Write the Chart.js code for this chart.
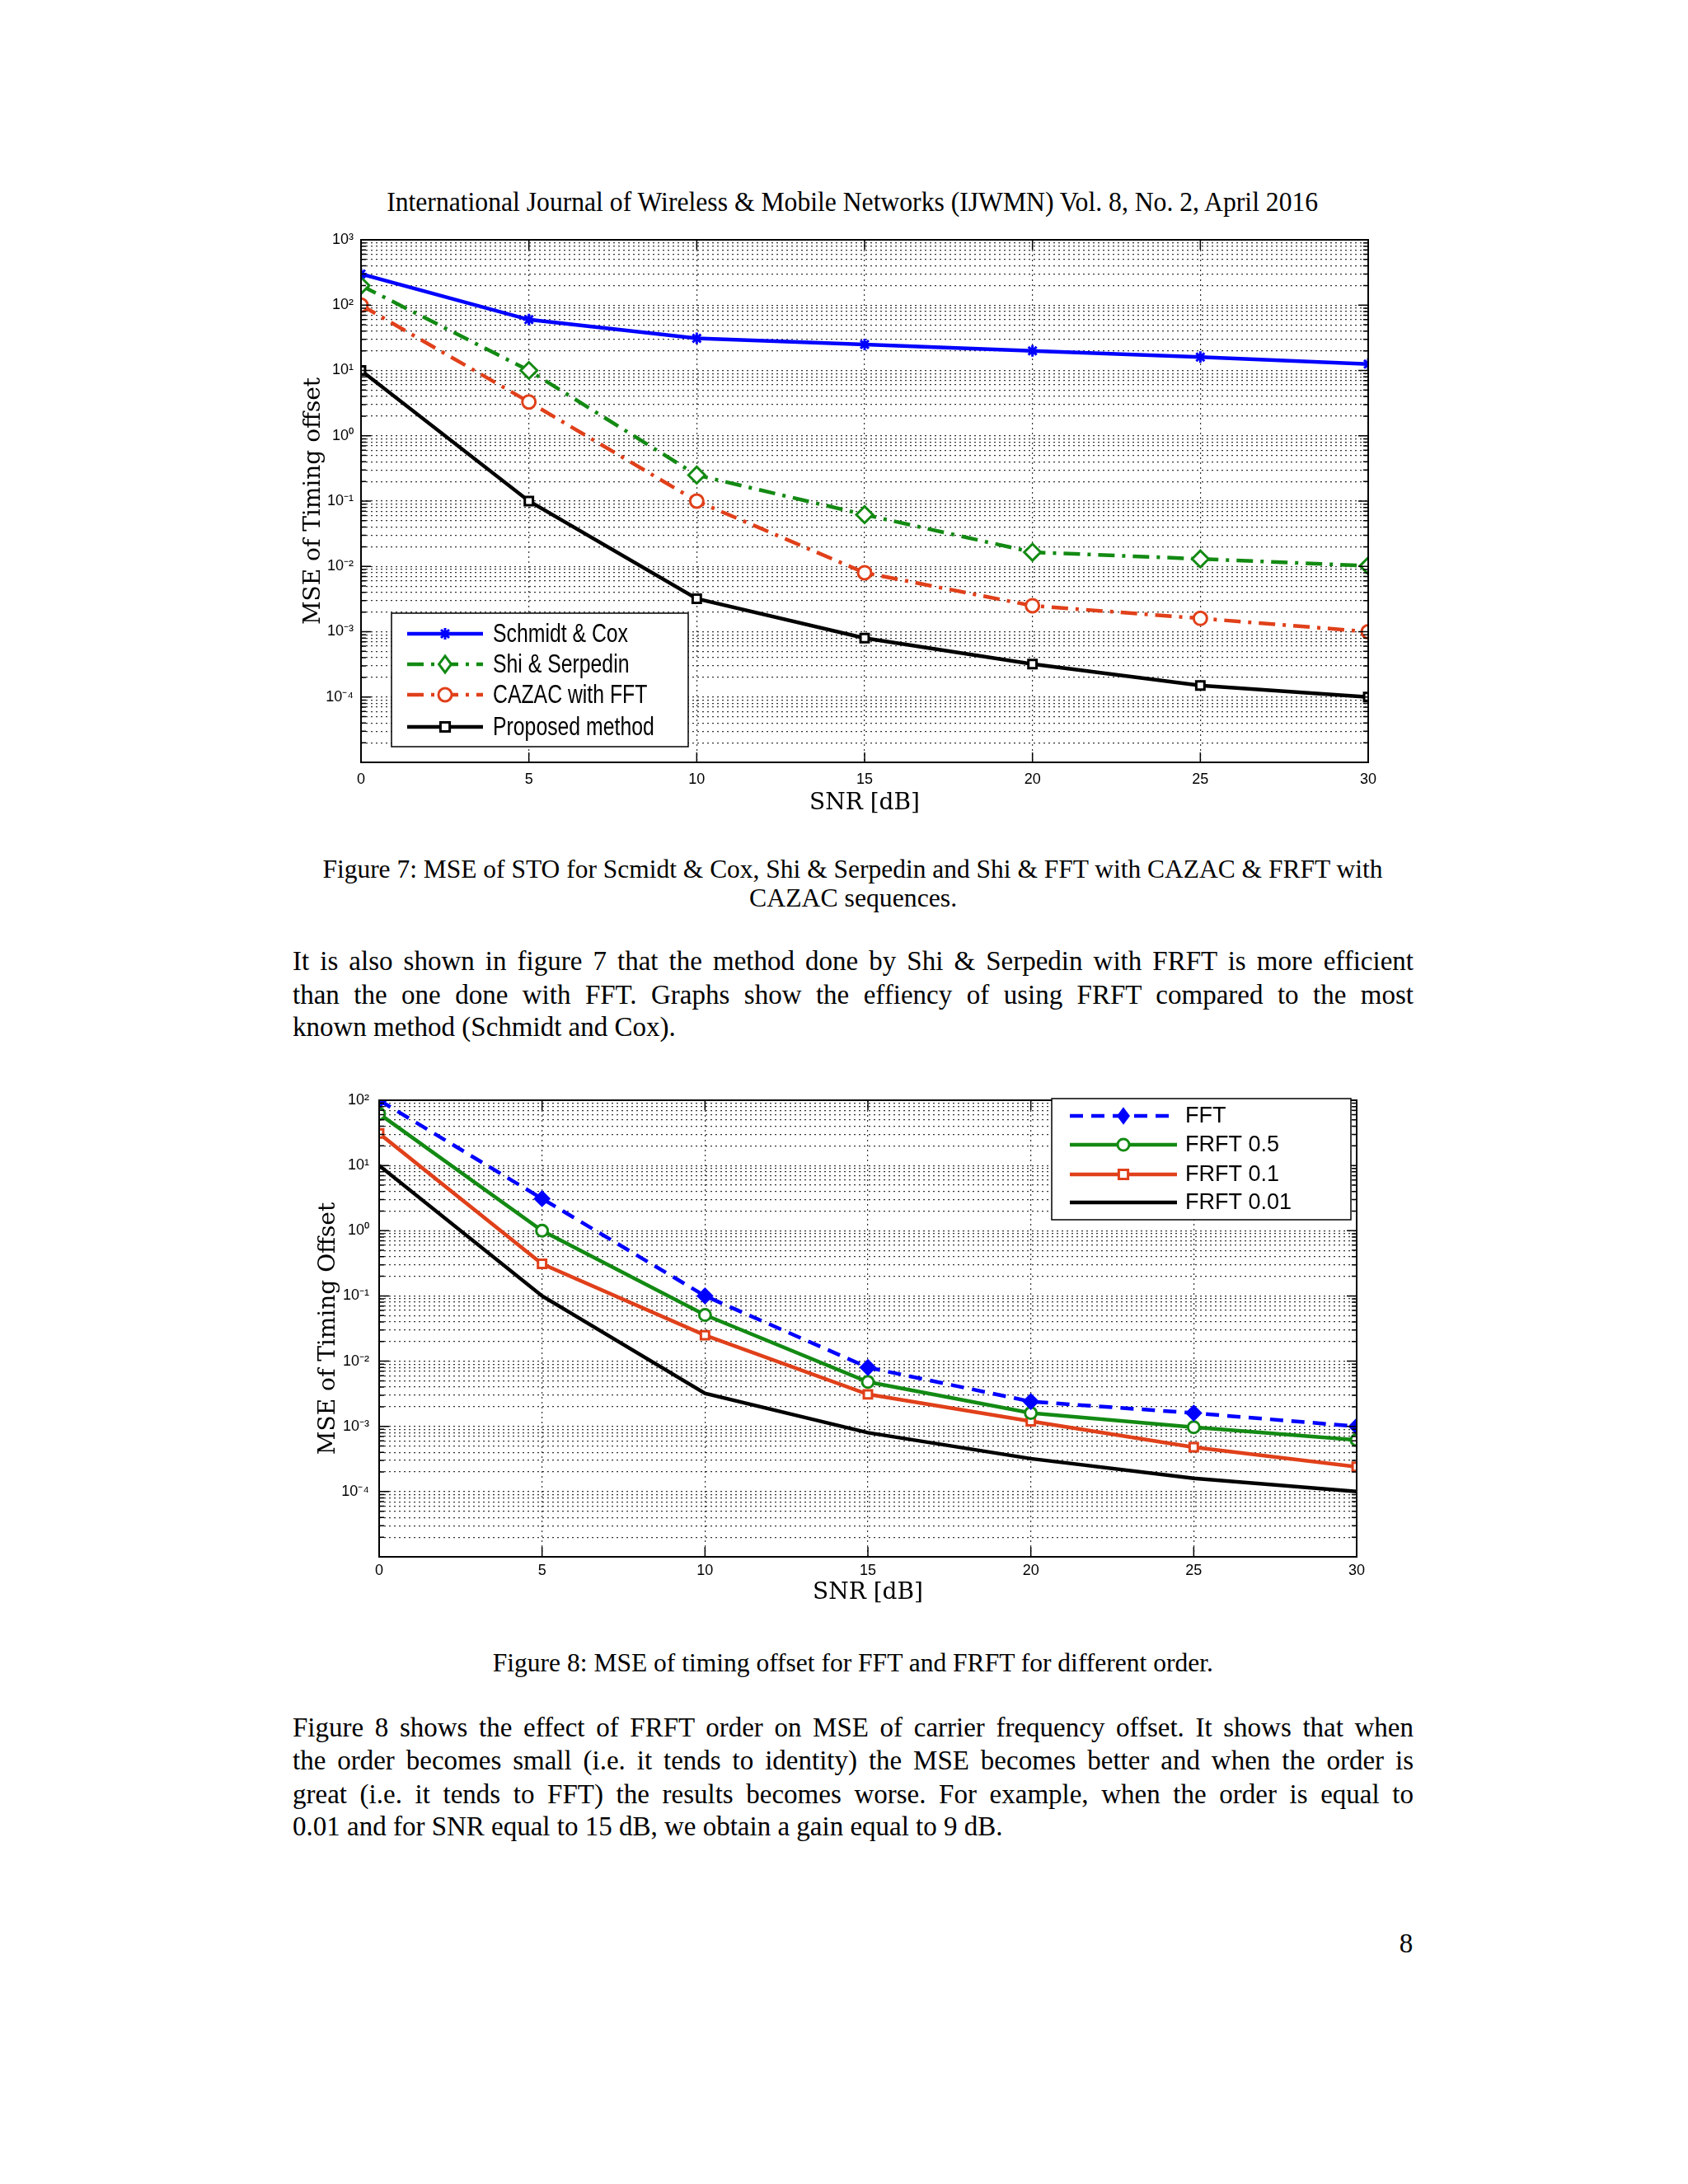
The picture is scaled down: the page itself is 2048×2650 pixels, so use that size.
<!DOCTYPE html>
<html>
<head>
<meta charset="utf-8">
<title>MSE of timing offset - figures 7 and 8</title>
<script src="https://cdn.jsdelivr.net/npm/chart.js@4.4.1/dist/chart.umd.min.js"></script>
<style>
  html, body { margin: 0; padding: 0; background: #fff; }
  body { width: 2048px; height: 2650px; position: relative; overflow: hidden;
         font-family: "Liberation Serif", "Times New Roman", serif; color: #000; }
  .ln { position: absolute; white-space: nowrap; font-size: 33px; line-height: 40px; height: 40px; }
  .cap { font-size: 31px; }
  canvas { position: absolute; }
</style>
</head>
<body>

<div class="ln" data-cx="1034" data-cy="245" data-w="1130">International Journal of Wireless &amp; Mobile Networks (IJWMN) Vol. 8, No. 2, April 2016</div>

<canvas id="fig7" width="1360" height="760" style="left:340px;top:260px;width:1360px;height:760px"></canvas>

<div class="ln cap" data-cx="1034" data-cy="1055" data-w="1286">Figure 7: MSE of STO for Scmidt &amp; Cox, Shi &amp; Serpedin and Shi &amp; FFT with CAZAC &amp; FRFT with</div>
<div class="ln cap" data-cx="1035" data-cy="1090" data-w="252">CAZAC sequences.</div>

<div class="ln" data-x="355" data-cy="1166" data-w="1360">It is also shown in figure 7 that the method done by Shi &amp; Serpedin with FRFT is more efficient</div>
<div class="ln" data-x="355" data-cy="1207" data-w="1360">than the one done with FFT. Graphs show the effiency of using FRFT compared to the most</div>
<div class="ln" data-x="355" data-cy="1246">known method (Schmidt and Cox).</div>

<canvas id="fig8" width="1340" height="680" style="left:360px;top:1300px;width:1340px;height:680px"></canvas>

<div class="ln cap" data-cx="1035" data-cy="2018" data-w="874">Figure 8: MSE of timing offset for FFT and FRFT for different order.</div>

<div class="ln" data-x="355" data-cy="2096" data-w="1360">Figure 8 shows the effect of FRFT order on MSE of carrier frequency offset. It shows that when</div>
<div class="ln" data-x="355" data-cy="2136" data-w="1360">the order becomes small (i.e. it tends to identity) the MSE becomes better and when the order is</div>
<div class="ln" data-x="355" data-cy="2177" data-w="1360">great (i.e. it tends to FFT) the results becomes worse. For example, when the order is equal to</div>
<div class="ln" data-x="355" data-cy="2216">0.01 and for SNR equal to 15 dB, we obtain a gain equal to 9 dB.</div>

<div class="ln" data-cx="1706" data-cy="2358">8</div>

<script>
// ---- data ----
const snr = [0, 5, 10, 15, 20, 25, 30];

// Figure 7
const schmidtCox  = [300, 60, 31, 25, 20, 16, 12.5];
const shiSerpedin = [200, 10, 0.25, 0.062, 0.0165, 0.013, 0.0102];
const cazacFft    = [100, 3.3, 0.1, 0.008, 0.0025, 0.0016, 0.001];
const proposed    = [10, 0.1, 0.0032, 0.0008, 0.00032, 0.00015, 0.0001];

// Figure 8
const fft     = [100, 3.1, 0.1, 0.008, 0.0024, 0.0016, 0.001];
const frft05  = [62, 1, 0.051, 0.0048, 0.0016, 0.00097, 0.00062];
const frft01  = [31, 0.31, 0.025, 0.0031, 0.0012, 0.00048, 0.00024];
const frft001 = [10, 0.1, 0.0032, 0.0008, 0.00032, 0.00016, 0.0001];

// axis ticks
const xTickStep = 5;
const decades7 = [-5, -4, -3, -2, -1, 0, 1, 2];
const decades8 = [-5, -4, -3, -2, -1, 0, 1];
const minorSteps = [1, 2, 3, 4, 5, 6, 7, 8, 9];

function logTicks(decades) {
    const t = [];
    decades.forEach(e => minorSteps.forEach(m => t.push(+(m * Math.pow(10, e)).toPrecision(2))));
    t.push(Math.pow(10, decades[decades.length - 1] + 1));
    return t;
}
const yTicks7 = logTicks(decades7);
const yTicks8 = logTicks(decades8);

function isPow10(v) {
    const l = Math.log10(v);
    return Math.abs(l - Math.round(l)) < 1e-6;
}
const supDigits = { '-': '\u207B', '0': '\u2070', '1': '\u00B9', '2': '\u00B2', '3': '\u00B3',
                    '4': '\u2074', '5': '\u2075', '6': '\u2076', '7': '\u2077', '8': '\u2078', '9': '\u2079' };
function powLabel(v, min) {
    if (!isPow10(v) || v <= min * 1.0001) return '';
    return '10' + String(Math.round(Math.log10(v))).split('').map(c => supDigits[c]).join('');
}
function pts(values) {
    return snr.map((x, i) => ({ x: x, y: values[i] }));
}

// ---- legend boxes + matlab style frame ----
const legendLayout = {
    fig7: { x: 37, y: 453, w: 360, h: 162, rows: [478, 515, 552, 591], x0: 56, x1: 148, tx: 160,
            font: '31px "Liberation Sans", sans-serif', squeeze: 0.8 },
    fig8: { x: 816, y: -2, w: 363, h: 147, rows: [19, 54, 90, 124], x0: 838, x1: 968, tx: 978,
            font: '27px "Liberation Sans", sans-serif', squeeze: 1 }
};

function drawMark(ctx, style, r, x, y, fill, stroke, lw) {
    ctx.save();
    ctx.setLineDash([]);
    ctx.lineWidth = lw;
    ctx.strokeStyle = stroke;
    ctx.fillStyle = fill;
    ctx.beginPath();
    if (style === 'circle') {
        ctx.arc(x, y, r, 0, Math.PI * 2);
    } else if (style === 'rect') {
        ctx.rect(x - r * 0.8, y - r * 0.8, r * 1.6, r * 1.6);
    } else if (style === 'rectRot') {
        ctx.moveTo(x, y - r); ctx.lineTo(x + r * 0.75, y); ctx.lineTo(x, y + r); ctx.lineTo(x - r * 0.75, y); ctx.closePath();
    } else if (style === 'star') {
        for (let k = 0; k < 4; k++) {
            const a = k * Math.PI / 4;
            ctx.moveTo(x - r * Math.cos(a), y - r * Math.sin(a));
            ctx.lineTo(x + r * Math.cos(a), y + r * Math.sin(a));
        }
        ctx.stroke(); ctx.restore(); return;
    } else { ctx.restore(); return; }
    ctx.fill(); ctx.stroke();
    ctx.restore();
}

const axesBox = {
    id: 'axesBox',
    afterDatasetsDraw(chart) {
        const { ctx, chartArea: a, scales: { x, y } } = chart;
        ctx.save();
        ctx.setLineDash([]);
        ctx.strokeStyle = '#000';
        ctx.lineWidth = 1.5;
        ctx.beginPath();
        x.ticks.forEach(t => {
            const px = x.getPixelForValue(t.value);
            ctx.moveTo(px, a.bottom); ctx.lineTo(px, a.bottom - 12);
            ctx.moveTo(px, a.top); ctx.lineTo(px, a.top + 12);
        });
        y.ticks.forEach(t => {
            const py = y.getPixelForValue(t.value);
            const len = isPow10(t.value) ? 12 : 6;
            ctx.moveTo(a.left, py); ctx.lineTo(a.left + len, py);
            ctx.moveTo(a.right, py); ctx.lineTo(a.right - len, py);
        });
        ctx.stroke();
        ctx.lineWidth = 2;
        ctx.strokeRect(a.left, a.top, a.width, a.height);

        // legend
        const L = legendLayout[chart.canvas.id];
        const bx = a.left + L.x, by = a.top + L.y;
        ctx.fillStyle = '#fff';
        ctx.fillRect(bx, by, L.w, L.h);
        ctx.lineWidth = 1.5;
        ctx.strokeRect(bx, by, L.w, L.h);
        ctx.font = L.font;
        ctx.textBaseline = 'middle';
        chart.data.datasets.forEach((ds, i) => {
            const ry = a.top + L.rows[i];
            ctx.save();
            ctx.strokeStyle = ds.borderColor;
            ctx.lineWidth = ds.borderWidth;
            ctx.setLineDash(ds.borderDash || []);
            ctx.beginPath();
            ctx.moveTo(a.left + L.x0, ry); ctx.lineTo(a.left + L.x1, ry);
            ctx.stroke();
            ctx.restore();
            if (ds.pointRadius > 0) {
                drawMark(ctx, ds.pointStyle, ds.pointRadius, a.left + (L.x0 + L.x1) / 2, ry,
                         ds.pointBackgroundColor, ds.borderColor, ds.pointBorderWidth);
            }
            ctx.fillStyle = '#000';
            const tw = ctx.measureText(ds.label).width * L.squeeze;
            ctx.fillText(ds.label, a.left + L.tx, ry + 1, tw);
        });
        ctx.restore();
    }
};

function axisOptions(yTicks, yMin, yMax, yTitle, fit) {
    const grid = { color: 'rgba(0,0,0,0.8)', lineWidth: 1.2, drawTicks: false, borderDash: [2, 4] };
    const border = { display: false, dash: [2, 4] };
    return {
        x: {
            type: 'linear', min: 0, max: 30,
            grid: grid, border: border,
            ticks: { stepSize: xTickStep, padding: fit.xPad, color: '#000',
                     font: { family: '"Liberation Sans", sans-serif', size: 18 } },
            title: { display: true, text: 'SNR [dB]', color: '#000', padding: 0,
                     font: { family: '"DejaVu Serif", serif', size: 28 } },
            afterFit: s => { s.height = fit.xH; }
        },
        y: {
            type: 'logarithmic', min: yMin, max: yMax,
            grid: grid, border: border,
            afterBuildTicks: s => { s.ticks = yTicks.map(v => ({ value: v, major: isPow10(v) })); },
            ticks: { autoSkip: false, padding: fit.yPad, color: '#000',
                     callback: v => powLabel(v, yMin),
                     font: { family: '"Liberation Sans", sans-serif', size: 18 } },
            title: { display: true, text: yTitle, color: '#000', padding: { top: fit.tPad, bottom: 0 },
                     font: { family: '"DejaVu Serif", serif', size: 28 } },
            afterFit: s => { s.width = fit.yW; }
        }
    };
}

const green = '#138a13', red = '#e0401a', blue = '#0000ff';
const dashDot = [20, 9, 4, 9];

Chart.defaults.devicePixelRatio = 1;

// Figure 7
new Chart(document.getElementById('fig7'), {
    type: 'line',
    data: {
        datasets: [{
            label: 'Schmidt & Cox', data: pts(schmidtCox),
            borderColor: blue, borderWidth: 4.5, borderDash: [],
            pointStyle: 'star', pointRadius: 7, pointBorderWidth: 3,
            pointBackgroundColor: blue, pointBorderColor: blue
        }, {
            label: 'Shi & Serpedin', data: pts(shiSerpedin),
            borderColor: green, borderWidth: 4.5, borderDash: dashDot,
            pointStyle: 'rectRot', pointRadius: 10, pointBorderWidth: 3,
            pointBackgroundColor: '#fff', pointBorderColor: green
        }, {
            label: 'CAZAC with FFT', data: pts(cazacFft),
            borderColor: red, borderWidth: 4.5, borderDash: dashDot,
            pointStyle: 'circle', pointRadius: 8, pointBorderWidth: 3,
            pointBackgroundColor: '#fff', pointBorderColor: red
        }, {
            label: 'Proposed method', data: pts(proposed),
            borderColor: '#000', borderWidth: 4.5, borderDash: [],
            pointStyle: 'rect', pointRadius: 7, pointBorderWidth: 3,
            pointBackgroundColor: '#fff', pointBorderColor: '#000'
        }]
    },
    options: {
        responsive: false, animation: false, events: [],
        layout: { padding: { left: 0, top: 31, right: 40, bottom: 28 } },
        elements: { line: { tension: 0, fill: false } },
        plugins: { legend: { display: false }, tooltip: { enabled: false } },
        scales: axisOptions(yTicks7, 1e-5, 1e3, 'MSE of Timing offset',
                            { xPad: 10, xH: 67, yPad: 9, yW: 98, tPad: 24 })
    },
    plugins: [axesBox]
});

// Figure 8
new Chart(document.getElementById('fig8'), {
    type: 'line',
    data: {
        datasets: [{
            label: 'FFT', data: pts(fft),
            borderColor: blue, borderWidth: 4.5, borderDash: [16, 10],
            pointStyle: 'rectRot', pointRadius: 9, pointBorderWidth: 2,
            pointBackgroundColor: blue, pointBorderColor: blue
        }, {
            label: 'FRFT 0.5', data: pts(frft05),
            borderColor: green, borderWidth: 4.5, borderDash: [],
            pointStyle: 'circle', pointRadius: 7, pointBorderWidth: 3,
            pointBackgroundColor: '#fff', pointBorderColor: green
        }, {
            label: 'FRFT 0.1', data: pts(frft01),
            borderColor: red, borderWidth: 4.5, borderDash: [],
            pointStyle: 'rect', pointRadius: 7, pointBorderWidth: 3,
            pointBackgroundColor: '#fff', pointBorderColor: red
        }, {
            label: 'FRFT 0.01', data: pts(frft001),
            borderColor: '#000', borderWidth: 4.5, borderDash: [],
            pointRadius: 0, pointBorderWidth: 0,
            pointBackgroundColor: '#000', pointBorderColor: '#000'
        }]
    },
    options: {
        responsive: false, animation: false, events: [],
        layout: { padding: { left: 0, top: 35, right: 54, bottom: 30 } },
        elements: { line: { tension: 0, fill: false } },
        plugins: { legend: { display: false }, tooltip: { enabled: false } },
        scales: axisOptions(yTicks8, 1e-5, 1e2, 'MSE of Timing Offset',
                            { xPad: 6, xH: 61, yPad: 12, yW: 100, tPad: 22 })
    },
    plugins: [axesBox]
});

// ---- page text: centre / justify each line ----
function placeLines() {
    document.querySelectorAll('.ln').forEach(el => {
        el.style.top = (+el.dataset.cy - 20) + 'px';
        const natural = el.getBoundingClientRect().width;
        const w = el.dataset.w ? +el.dataset.w : 0;
        if (el.dataset.cx) {
            el.style.left = (+el.dataset.cx - natural / 2) + 'px';
            if (w) el.style.transform = 'scaleX(' + (w / natural) + ')';
        } else {
            el.style.left = el.dataset.x + 'px';
            if (w) {
                const gaps = (el.textContent.match(/ /g) || []).length;
                el.style.wordSpacing = ((w - natural) / gaps) + 'px';
            }
        }
    });
}
placeLines();
</script>
</body>
</html>
